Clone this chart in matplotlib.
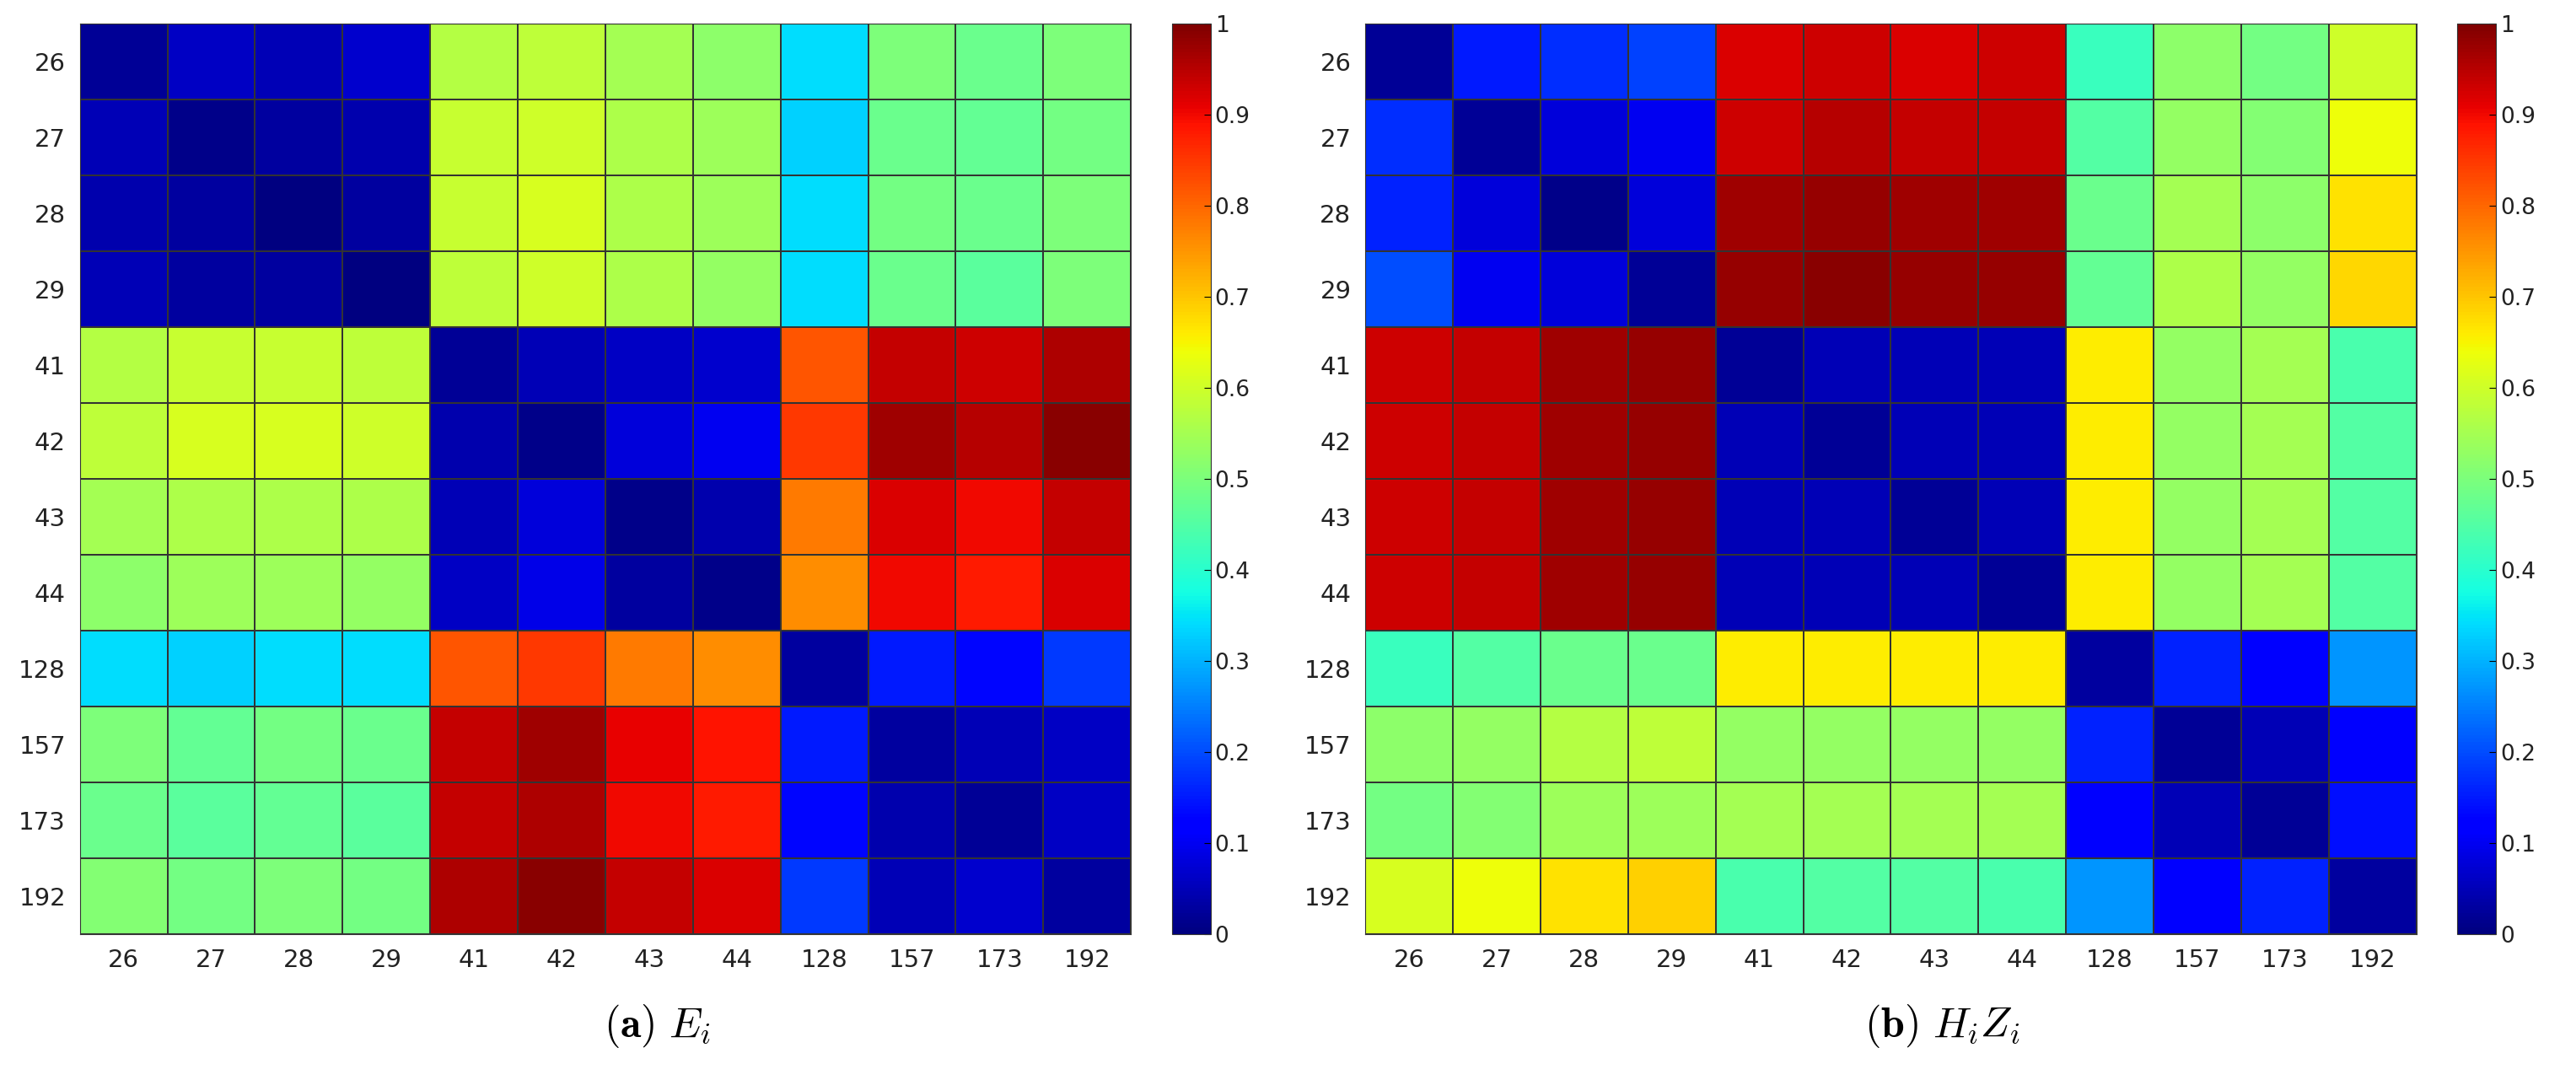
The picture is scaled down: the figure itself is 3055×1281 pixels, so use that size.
import numpy as np
import matplotlib
matplotlib.use("Agg")
import matplotlib.pyplot as plt

plt.rcParams["mathtext.fontset"] = "cm"

labels = ["26","27","28","29","41","42","43","44","128","157","173","192"]

E = [
 [0.02,0.06,0.05,0.07,0.57,0.58,0.55,0.52,0.34,0.50,0.48,0.50],
 [0.05,0.01,0.03,0.04,0.59,0.60,0.56,0.54,0.33,0.48,0.47,0.49],
 [0.04,0.03,0.00,0.03,0.59,0.61,0.56,0.54,0.34,0.49,0.48,0.50],
 [0.05,0.03,0.03,0.00,0.58,0.60,0.56,0.53,0.34,0.48,0.46,0.50],
 [0.57,0.59,0.59,0.58,0.02,0.05,0.06,0.07,0.82,0.94,0.93,0.96],
 [0.58,0.61,0.61,0.60,0.04,0.01,0.08,0.10,0.85,0.97,0.95,0.99],
 [0.55,0.56,0.56,0.56,0.05,0.08,0.01,0.04,0.78,0.92,0.90,0.94],
 [0.52,0.54,0.54,0.53,0.06,0.09,0.03,0.01,0.76,0.90,0.88,0.92],
 [0.34,0.33,0.34,0.34,0.82,0.85,0.78,0.76,0.03,0.15,0.13,0.18],
 [0.50,0.47,0.49,0.48,0.94,0.97,0.91,0.89,0.15,0.03,0.05,0.06],
 [0.48,0.46,0.47,0.46,0.94,0.96,0.90,0.88,0.13,0.04,0.02,0.06],
 [0.51,0.49,0.50,0.49,0.96,0.99,0.94,0.92,0.18,0.05,0.07,0.03],
]

HZ = [
 [0.02,0.15,0.17,0.19,0.92,0.93,0.92,0.93,0.42,0.52,0.49,0.60],
 [0.17,0.02,0.08,0.10,0.93,0.95,0.94,0.94,0.45,0.53,0.51,0.64],
 [0.16,0.08,0.01,0.08,0.97,0.98,0.97,0.97,0.48,0.55,0.52,0.67],
 [0.20,0.10,0.08,0.02,0.98,0.99,0.98,0.98,0.47,0.56,0.53,0.68],
 [0.93,0.94,0.97,0.98,0.02,0.05,0.05,0.05,0.66,0.53,0.55,0.44],
 [0.93,0.94,0.97,0.98,0.05,0.02,0.05,0.05,0.66,0.53,0.55,0.45],
 [0.93,0.94,0.97,0.98,0.05,0.05,0.02,0.05,0.66,0.53,0.55,0.45],
 [0.93,0.94,0.97,0.98,0.05,0.05,0.05,0.02,0.66,0.53,0.55,0.45],
 [0.42,0.45,0.48,0.48,0.66,0.66,0.66,0.66,0.03,0.16,0.12,0.27],
 [0.52,0.53,0.57,0.58,0.53,0.53,0.53,0.53,0.16,0.02,0.05,0.12],
 [0.49,0.51,0.54,0.54,0.55,0.55,0.55,0.55,0.12,0.05,0.02,0.14],
 [0.61,0.64,0.67,0.69,0.44,0.45,0.45,0.44,0.27,0.12,0.16,0.03],
]

captions = [r"$\mathbf{(a)}\ E_i$", r"$\mathbf{(b)}\ H_iZ_i$"]

fig = plt.figure(figsize=(30.55, 12.81), dpi=100)
axpos = [[0.031, 0.135, 0.408, 0.843], [0.530, 0.135, 0.408, 0.843]]
cbpos = [[0.455, 0.135, 0.015, 0.843], [0.954, 0.135, 0.015, 0.843]]
for data, ap, cp, cap in zip([E, HZ], axpos, cbpos, captions):
    ax = fig.add_axes(ap)
    m = ax.pcolormesh(np.array(data), cmap="jet", vmin=0, vmax=1,
                      edgecolor="#333333", linewidth=1.2)
    ax.set_xlim(0, 12); ax.set_ylim(12, 0)
    ax.set_xticks(np.arange(12) + 0.5, labels)
    ax.set_yticks(np.arange(12) + 0.5, labels)
    ax.tick_params(labelsize=21, length=0, pad=12, labelcolor="#222222")
    for s in ax.spines.values():
        s.set_color("#333333")
    cax = fig.add_axes(cp)
    cb = fig.colorbar(m, cax=cax, ticks=np.linspace(0, 1, 11))
    cb.ax.set_yticklabels(["0","0.1","0.2","0.3","0.4","0.5","0.6","0.7","0.8","0.9","1"])
    cb.ax.tick_params(labelsize=19, direction="in", length=6, labelcolor="#222222")
    cb.outline.set_edgecolor("#333333")
    fig.text(ap[0] + ap[2] / 2 + 0.02, 0.05, cap, ha="center", va="center", fontsize=36)

fig.savefig("out.png", dpi=100)
